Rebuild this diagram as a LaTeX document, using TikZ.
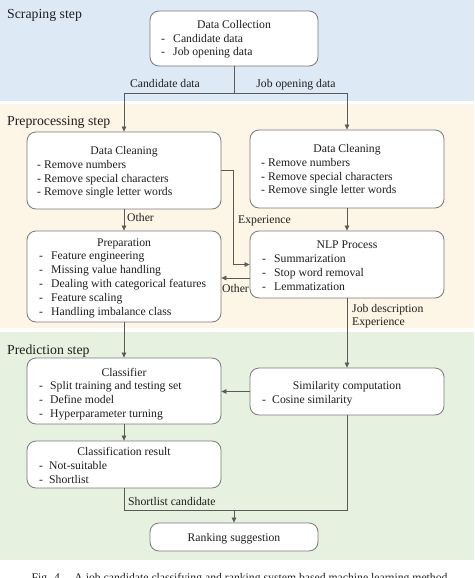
\documentclass[tikz,border=0pt]{standalone}
\usepackage{fontspec}
\setmainfont{Liberation Serif}
\usetikzlibrary{arrows.meta}
\definecolor{bandblue}{HTML}{DEE9F6}
\definecolor{bandbeige}{HTML}{FDF5E6}
\definecolor{bandgreen}{HTML}{E6F1DF}
\definecolor{boxgray}{HTML}{7A7A7A}
\definecolor{linegray}{HTML}{5A5A5A}
\definecolor{textcol}{HTML}{1E1E1E}
\begin{document}
\begin{tikzpicture}[x=1pt,y=-1pt,
  box/.style={draw=boxgray, line width=0.8pt, rounded corners=9pt, fill=white, inner sep=0pt},
  txt/.style={font=\fontsize{11.7}{13.5}\selectfont, inner sep=0pt, text=textcol},
  sect/.style={font=\fontsize{13.8}{16}\selectfont, inner sep=0pt, text=textcol, anchor=base west},
  ln/.style={draw=linegray, line width=0.7pt},
  arr/.style={ln, -{Triangle[length=5pt,width=4.5pt]}}]
\useasboundingbox (0,0) rectangle (474,578);
% bands
\fill[bandblue] (0,0) rectangle (474,101);
\fill[bandbeige] (0,104) rectangle (474,328);
\fill[bandgreen] (0,332) rectangle (474,560);
% section titles
\node[sect] (s1) at (7,19) {Scraping step};
\node[sect] (s2) at (7,125) {Preprocessing step};
\node[sect] (s3) at (7,354) {Prediction step};
% boxes
\node[box, minimum width=168pt, minimum height=55pt] (dc) at (234,38.5) {};
\node[box, minimum width=194pt, minimum height=77pt] (dcl) at (124,170.5) {};
\node[box, minimum width=194pt, minimum height=78pt] (dcr) at (347,169) {};
\node[box, minimum width=194pt, minimum height=91pt] (prep) at (124,276.5) {};
\node[box, minimum width=194pt, minimum height=67pt] (nlp) at (347,264.5) {};
\node[box, minimum width=194pt, minimum height=66pt] (cls) at (124,391) {};
\node[box, minimum width=194pt, minimum height=47pt] (sim) at (347,391.5) {};
\node[box, minimum width=194pt, minimum height=47pt] (cr) at (124,464.5) {};
\node[box, minimum width=168pt, minimum height=28pt] (rank) at (234,537) {};
% Data Collection text
\node[txt, anchor=base] (dct) at (234,29) {Data Collection};
\node[txt, anchor=base west] (dc1d) at (161,43) {-};
\node[txt, anchor=base west] (dc1) at (173,43) {Candidate data};
\node[txt, anchor=base west] (dc2d) at (161,56) {-};
\node[txt, anchor=base west] (dc2) at (173,56) {Job opening data};
% left Data Cleaning
\node[txt, anchor=base] (dclt) at (124,154) {Data Cleaning};
\node[txt, anchor=base west] (dcl1) at (37,168) {- Remove numbers};
\node[txt, anchor=base west] (dcl2) at (37,182) {- Remove special characters};
\node[txt, anchor=base west] (dcl3) at (37,195) {- Remove single letter words};
% right Data Cleaning
\node[txt, anchor=base] (dcrt) at (347,152) {Data Cleaning};
\node[txt, anchor=base west] (dcr1) at (261,166) {- Remove numbers};
\node[txt, anchor=base west] (dcr2) at (261,180) {- Remove special characters};
\node[txt, anchor=base west] (dcr3) at (261,193) {- Remove single letter words};
% Preparation
\node[txt, anchor=base] (prept) at (124,246) {Preparation};
\foreach \t/\y [count=\i] in {Feature engineering/259, Missing value handling/273, Dealing with categorical features/287, Feature scaling/301, Handling imbalance class/315}{
  \node[txt, anchor=base west] (prepd\i) at (39,\y) {-};
  \node[txt, anchor=base west] (prep\i) at (51,\y) {\t};
}
% NLP
\node[txt, anchor=base] (nlpt) at (347,248) {NLP Process};
\foreach \t/\y [count=\i] in {Summarization/262, Stop word removal/276, Lemmatization/290}{
  \node[txt, anchor=base west] (nlpd\i) at (262,\y) {-};
  \node[txt, anchor=base west] (nlp\i) at (274,\y) {\t};
}
% Classifier
\node[txt, anchor=base] (clst) at (124,376) {Classifier};
\foreach \t/\y [count=\i] in {Split training and testing set/389, Define model/403, Hyperparameter turning/417}{
  \node[txt, anchor=base west] (clsd\i) at (39,\y) {-};
  \node[txt, anchor=base west] (cls\i) at (50,\y) {\t};
}
% Similarity
\node[txt, anchor=base] (simt) at (347,389) {Similarity computation};
\node[txt, anchor=base west] (sim1d) at (262,403) {-};
\node[txt, anchor=base west] (sim1) at (272,403) {Cosine similarity};
% Classification result
\node[txt, anchor=base] (crt) at (124,455) {Classification result};
\node[txt, anchor=base west] (cr1d) at (39,469) {-};
\node[txt, anchor=base west] (cr1) at (49,469) {Not-suitable};
\node[txt, anchor=base west] (cr2d) at (39,483) {-};
\node[txt, anchor=base west] (cr2) at (49,483) {Shortlist};
% Ranking
\node[txt, anchor=base] (rankt) at (234,541) {Ranking suggestion};
% connector labels
\node[txt, anchor=base] (lcand) at (165,88) {Candidate data};
\node[txt, anchor=base] (ljob) at (296,88) {Job opening data};
\node[txt, anchor=base west] (loth1) at (127,221) {Other};
\node[txt, anchor=base west] (lexp) at (238,223) {Experience};
\node[txt, anchor=base west] (loth2) at (222,292) {Other};
\node[txt, anchor=base west] (ljd) at (352,312) {Job description};
\node[txt, anchor=base west] (lexp2) at (352,325) {Experience};
\node[txt, anchor=base west] (lshort) at (128,505) {Shortlist candidate};
% connectors
\coordinate (split) at (234,93);
\coordinate (splitl) at (124,93);
\coordinate (splitr) at (347,93);
\draw[ln] (dc.south) -- (split);
\draw[ln] (splitl) -- (splitr);
\draw[arr] (splitl) -- (dcl.north);
\draw[arr] (splitr) -- (dcr.north);
\draw[arr] (dcl.south) -- (prep.north);
\draw[arr] (dcr.south) -- (nlp.north);
\coordinate (exp1) at (233,170.5);
\draw[arr] (dcl.east) -- (exp1) |- (nlp.west);
\coordinate (oth) at (250,278);
\draw[arr] (oth) -- (prep.east |- oth);
\draw[arr] (prep.south) -- (cls.north);
\draw[arr] (nlp.south) -- (sim.north);
\draw[arr] (sim.west) -- (cls.east |- sim.west);
\draw[arr] (cls.south) -- (cr.north);
\coordinate (join) at (234,510);
\draw[ln] (cr.south) |- (join);
\draw[ln] (sim.south) |- (join);
\draw[arr] (join) -- (rank.north);
% caption (cut off at the bottom edge)
\node[txt, anchor=base] (cap) at (241,581) {Fig. 4.\quad A job candidate classifying and ranking system based machine learning method.};
\end{tikzpicture}
\end{document}
